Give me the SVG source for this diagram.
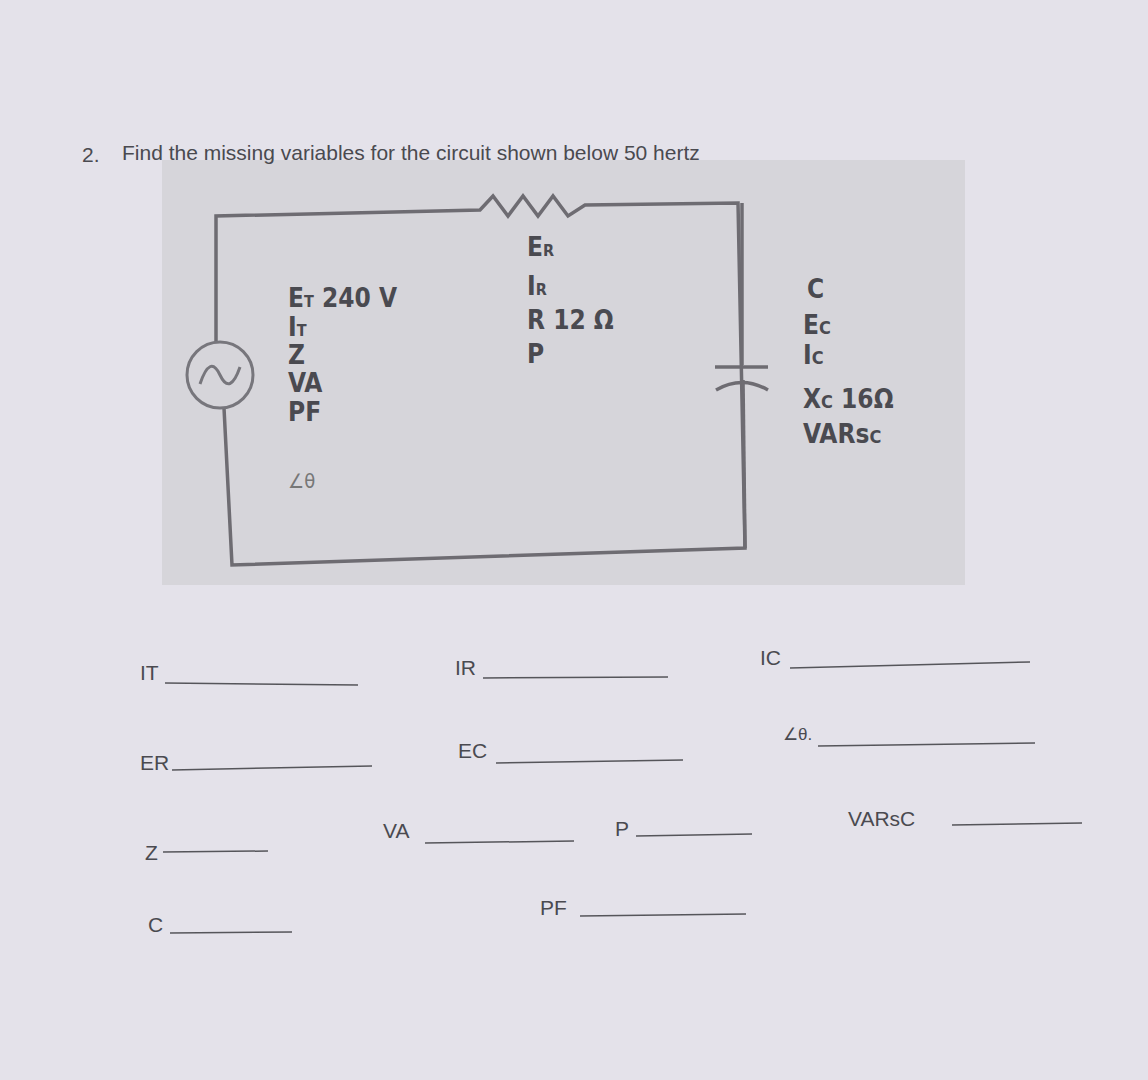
<svg xmlns="http://www.w3.org/2000/svg" width="1148" height="1080" viewBox="0 0 1148 1080">
<style>
.w{fill:none;stroke:#6e6c72;stroke-width:3.5}
.c{font-family:"DejaVu Sans Condensed","DejaVu Sans",sans-serif;font-weight:bold;font-stretch:condensed;fill:#4a4a50;font-size:26px}
.q{font-family:"Liberation Sans",Arial,sans-serif;fill:#4a4a50;font-size:21px}
.u{stroke:#55555a;stroke-width:1.5}
</style>
<rect width="1148" height="1080" fill="#e4e2ea"/>
<rect x="162" y="160" width="803" height="425" fill="#d6d5da"/>
<text class="q" x="82" y="162" font-size="23">2.</text>
<text class="q" x="122" y="160">Find the missing variables for the circuit shown below 50 hertz</text>
<g id="connectors">
<polyline class="w" points="216,343 216,216 480,210 493,196 508,216 523,196 538,216 553,196 568,216 585,205 738,203 745,548 232,565 224,408"/>
<line class="w" x1="742" y1="203" x2="742" y2="365"/>
<line class="w" x1="715" y1="367" x2="768" y2="367" stroke-width="3"/>
<path class="w" d="M716,390 Q742,375 768,390" stroke-width="3"/>
<line class="w" x1="743" y1="380" x2="745" y2="548"/>
</g>
<g id="source"><circle cx="220" cy="375" r="33" fill="none" stroke="#77767c" stroke-width="3"/>
<path d="M200,384 Q210,354 220,375 Q230,396 240,367" fill="none" stroke="#77767c" stroke-width="3"/></g>
<g id="source-labels" class="c">
<text x="288" y="307">E<tspan font-size="16">T</tspan> 240 V</text>
<text x="288" y="336">I<tspan font-size="16">T</tspan></text>
<text x="288" y="364">Z</text>
<text x="288" y="392">VA</text>
<text x="288" y="421">PF</text>
<text x="288" y="488" font-weight="normal" font-size="20" fill="#777">∠θ</text>
</g>
<g id="resistor-labels" class="c">
<text x="527" y="256">E<tspan font-size="16">R</tspan></text>
<text x="527" y="295">I<tspan font-size="16">R</tspan></text>
<text x="527" y="329">R 12 Ω</text>
<text x="527" y="363">P</text>
</g>
<g id="cap-labels" class="c">
<text x="807" y="298">C</text>
<text x="803" y="334">E<tspan font-size="18">C</tspan></text>
<text x="803" y="364">I<tspan font-size="18">C</tspan></text>
<text x="803" y="408">X<tspan font-size="18">C</tspan> 16Ω</text>
<text x="803" y="443">VARs<tspan font-size="18">C</tspan></text>
</g>
<g id="answers" class="q">
<text x="140" y="680">IT</text><line class="u" x1="165" y1="683" x2="358" y2="685"/>
<text x="455" y="675">IR</text><line class="u" x1="483" y1="678" x2="668" y2="677"/>
<text x="760" y="665">IC</text><line class="u" x1="790" y1="668" x2="1030" y2="662"/>
<text x="140" y="770">ER</text><line class="u" x1="172" y1="770" x2="372" y2="766"/>
<text x="458" y="758">EC</text><line class="u" x1="496" y1="763" x2="683" y2="760"/>
<text x="783" y="740" font-size="17">∠θ.</text><line class="u" x1="818" y1="746" x2="1035" y2="743"/>
<text x="145" y="860">Z</text><line class="u" x1="163" y1="852" x2="268" y2="851"/>
<text x="383" y="838">VA</text><line class="u" x1="425" y1="843" x2="574" y2="841"/>
<text x="615" y="836">P</text><line class="u" x1="636" y1="836" x2="752" y2="834"/>
<text x="848" y="826">VARsC</text><line class="u" x1="952" y1="825" x2="1082" y2="823"/>
<text x="148" y="932">C</text><line class="u" x1="170" y1="933" x2="292" y2="932"/>
<text x="540" y="915">PF</text><line class="u" x1="580" y1="916" x2="746" y2="914"/>
</g>
</svg>
